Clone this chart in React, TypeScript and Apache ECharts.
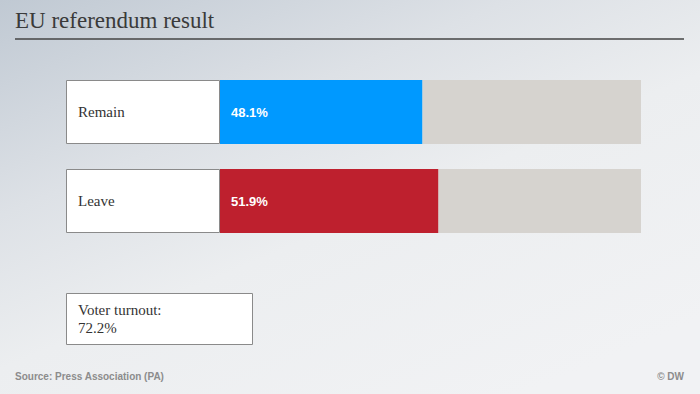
import React, { useEffect, useRef } from "react";
import * as echarts from "echarts";

const categories = ["Remain", "Leave"];
const shares = [48.1, 51.9];
const barColors = ["#0099FF", "#BE202E"];
const totalShare = 100;
const turnoutLabel = "Voter turnout:";
const turnoutValue = "72.2%";
const titleText = "EU referendum result";
const sourceText = "Source: Press Association (PA)";
const creditText = "© DW";

const SERIF = "'Liberation Serif', 'Times New Roman', serif";
const SANS = "'Liberation Sans', Arial, sans-serif";

export default function App() {
  const ref = useRef<HTMLDivElement>(null);
  useEffect(() => {
    if (!ref.current) return;
    const chart = echarts.init(ref.current, null, { renderer: "svg" });
    const boxGraphics: any[] = [];
    categories.forEach((c, i) => {
      const y = 80 + i * 89;
      boxGraphics.push({
        type: "rect",
        shape: { x: 66.5, y: y + 0.5, width: 153, height: 63 },
        style: { fill: "#ffffff", stroke: "#8a8a8a", lineWidth: 1 },
        z: 10,
      });
      boxGraphics.push({
        type: "text",
        x: 78,
        y: y + 32,
        style: {
          text: c,
          font: `15px ${SERIF}`,
          fill: "#333333",
          verticalAlign: "middle",
        },
        z: 11,
      });
    });
    chart.setOption({
      animation: false,
      backgroundColor: {
        type: "linear",
        x: 0,
        y: 0,
        x2: 0.75,
        y2: 1,
        colorStops: [
          { offset: 0, color: "#c0c9d3" },
          { offset: 0.35, color: "#dde1e6" },
          { offset: 0.6, color: "#eceef0" },
          { offset: 1, color: "#f1f2f4" },
        ],
      },
      grid: { left: 220, right: 59, top: 67.5, bottom: 148.5 },
      xAxis: { type: "value", min: 0, max: totalShare, show: false },
      yAxis: {
        type: "category",
        data: categories,
        inverse: true,
        show: false,
      },
      series: [
        {
          type: "bar",
          stack: "total",
          barWidth: 64,
          data: shares.map((v, i) => ({ value: v, itemStyle: { color: barColors[i] } })),
          label: {
            show: true,
            position: "insideLeft",
            distance: 11,
            formatter: (p: any) => `${p.value}%`,
            color: "#ffffff",
            fontWeight: "bold",
            fontFamily: SANS,
            fontSize: 13,
          },
        },
        {
          type: "bar",
          stack: "total",
          barWidth: 64,
          data: shares.map((v) => +(totalShare - v).toFixed(1)),
          itemStyle: { color: "#D6D3CF" },
          silent: true,
        },
      ],
      graphic: [
        {
          type: "text",
          left: 15,
          top: 9,
          style: { text: titleText, font: `23px ${SERIF}`, fill: "#3a3a3a" },
        },
        {
          type: "line",
          shape: { x1: 15, y1: 39, x2: 684, y2: 39 },
          style: { stroke: "#444444", lineWidth: 1.5 },
        },
        ...boxGraphics,
        {
          type: "rect",
          shape: { x: 66.5, y: 293.5, width: 186, height: 51 },
          style: { fill: "#ffffff", stroke: "#8a8a8a", lineWidth: 1 },
        },
        {
          type: "text",
          x: 78,
          y: 310,
          style: { text: turnoutLabel, font: `15px ${SERIF}`, fill: "#333333", verticalAlign: "middle" },
        },
        {
          type: "text",
          x: 78,
          y: 328,
          style: { text: turnoutValue, font: `15px ${SERIF}`, fill: "#333333", verticalAlign: "middle" },
        },
        {
          type: "text",
          x: 15,
          y: 376,
          style: { text: sourceText, font: `bold 10px ${SANS}`, fill: "#8c8c8c", verticalAlign: "middle" },
        },
        {
          type: "text",
          x: 684,
          y: 376,
          style: { text: creditText, font: `bold 10px ${SANS}`, fill: "#8c8c8c", align: "right", verticalAlign: "middle" },
        },
      ],
    });
    return () => chart.dispose();
  }, []);
  return (
    <div
      ref={ref}
      style={{ position: "absolute", left: 0, top: 0, width: 700, height: 394 }}
    />
  );
}
